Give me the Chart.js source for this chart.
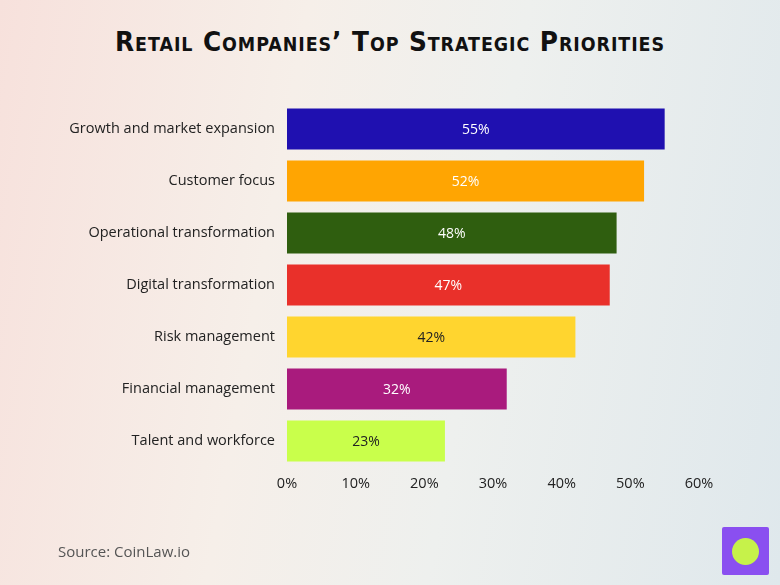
<!DOCTYPE html>
<html><head><meta charset="utf-8">
<script src="https://cdn.jsdelivr.net/npm/chart.js"></script>
<style>
html,body{margin:0;padding:0;width:780px;height:585px;overflow:hidden}
body{background:linear-gradient(100deg,#f7e1dc 0%,#f6efe9 35%,#eef0ee 60%,#dfe8ec 100%);font-family:"Open Sans",sans-serif;position:relative}
#t{position:absolute;top:26px;left:0;width:780px;text-align:center;font-family:"DejaVu Sans";font-weight:900;font-size:27px;font-variant:small-caps;letter-spacing:1px;color:#111;transform:scaleX(0.92)}
#s{position:absolute;left:58px;top:541px;font-size:15px;color:#555}
#logo{position:absolute;left:722px;top:527px;width:47px;height:48px;background:#8a4ff0;border-radius:2px}
#logo div{position:absolute;left:10px;top:11px;width:27px;height:27px;border-radius:50%;background:#c6f24a}
#c{position:absolute;left:0;top:0}
</style></head><body>
<div id="t">Retail Companies’ Top Strategic Priorities</div>
<canvas id="c" width="780" height="585"></canvas>
<div id="s">Source: CoinLaw.io</div>
<div id="logo"><div></div></div>
<script>
const categories=["Growth and market expansion","Customer focus","Operational transformation","Digital transformation","Risk management","Financial management","Talent and workforce"];
const values=[55,52,48,47,42,32,23];
const colors=["#1f10b0","#ffa502","#2f5e0f","#e9302a","#ffd52f","#a91b7d","#c9ff4b"];
const labelColors=["#fff","#fff","#fff","#fff","#222","#fff","#222"];
const ticks=[0,10,20,30,40,50,60];
const lbl={id:"lbl",afterDatasetsDraw(ch){const c=ch.ctx;ch.getDatasetMeta(0).data.forEach((b,i)=>{c.save();c.font="14px 'Open Sans'";c.fillStyle=labelColors[i];c.textAlign="center";c.textBaseline="middle";const x0=ch.scales.x.getPixelForValue(0);c.fillText(values[i]+"%",(x0+b.x)/2,b.y+1);c.restore();});}};
new Chart(document.getElementById("c"),{type:"bar",data:{labels:categories,datasets:[{data:values,backgroundColor:colors,barPercentage:41/52,categoryPercentage:1}]},
options:{indexAxis:"y",responsive:false,animation:false,layout:{padding:{top:103,right:81,bottom:93,left:0}},
plugins:{legend:{display:false},tooltip:{enabled:false}},
scales:{x:{min:0,max:60,grid:{display:false},border:{display:false},afterFit(s){s.height=25},afterBuildTicks(s){s.ticks=ticks.map(v=>({value:v}))},ticks:{color:"#222",padding:0,font:{size:14.5,family:"Open Sans"},callback:v=>v+"%"}},
y:{grid:{display:false},border:{display:false},afterFit(s){s.width=287},ticks:{color:"#222",padding:4,font:{size:14.5,family:"Open Sans"}}}}},plugins:[lbl]});
</script></body></html>
